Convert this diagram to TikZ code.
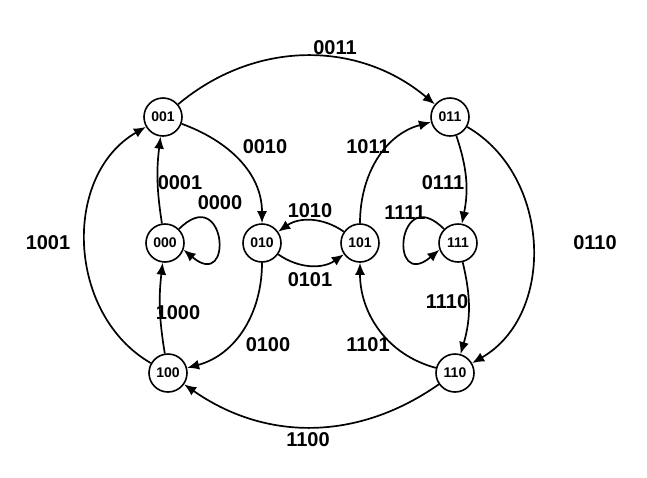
\documentclass[tikz,border=0pt]{standalone}
\usepackage{fontspec}
\setmainfont{Liberation Sans}
\usetikzlibrary{arrows.meta}
\begin{document}
\begin{tikzpicture}[x=1pt,y=-1pt,
  st/.style={circle,draw,line width=1.6pt,minimum size=38pt,inner sep=0pt,font=\bfseries\fontsize{14}{14}\selectfont,fill=white},
  lab/.style={font=\bfseries\fontsize{20}{20}\selectfont},
  ed/.style={line width=1.7pt,-{Latex[length=12pt,width=10pt]}}]
\useasboundingbox (0,0) rectangle (647,477);
\node[st] (a001) at (163,117) {001};
\node[st] (a011) at (450,117) {011};
\node[st] (a000) at (165,243) {000};
\node[st] (a010) at (262,243) {010};
\node[st] (a101) at (360,243) {101};
\node[st] (a111) at (458,243) {111};
\node[st] (a100) at (168,373) {100};
\node[st] (a110) at (455,373) {110};
\draw[ed] (a001) to[bend left=40] (a011);
\draw[ed] (a001) to[out=-20,in=90] (a010);
\draw[ed] (a000) to[bend left=8] (a001);
\draw[ed] (a000.45) to[out=45,in=-40,looseness=8] (a000.-20);
\draw[ed] (a100) to[bend left=8] (a000);
\draw[ed] (a100) to[out=150,in=-150,looseness=1.05] (a001);
\draw[ed] (a010) to[out=-90,in=15] (a100);
\draw[ed] (a010) to[bend right=35] (a101);
\draw[ed] (a101) to[bend right=35] (a010);
\draw[ed] (a101) to[out=90,in=195] (a011);
\draw[ed] (a011) to[bend left=15] (a111);
\draw[ed] (a111.135) to[out=135,in=-140,looseness=8] (a111.-160);
\draw[ed] (a111) to[bend left=15] (a110);
\draw[ed] (a011) to[out=-30,in=30,looseness=1.05] (a110);
\draw[ed] (a110) to[out=165,in=-90] (a101);
\draw[ed] (a110) to[bend left=35] (a100);
\node[lab] (l0011) at (335,48) {0011};
\node[lab] (l0010) at (265,147) {0010};
\node[lab] (l0001) at (180,183) {0001};
\node[lab] (l0000) at (220,203) {0000};
\node[lab] (l1000) at (178,313) {1000};
\node[lab] (l1001) at (48,243) {1001};
\node[lab] (l0100) at (268,345) {0100};
\node[lab] (l0101) at (310,280) {0101};
\node[lab] (l1010) at (310,211) {1010};
\node[lab] (l1011) at (368,147) {1011};
\node[lab] (l0111) at (443,183) {0111};
\node[lab] (l1111) at (405,213) {1111};
\node[lab] (l1110) at (447,302) {1110};
\node[lab] (l0110) at (595,243) {0110};
\node[lab] (l1101) at (368,345) {1101};
\node[lab] (l1100) at (308,440) {1100};
\end{tikzpicture}
\end{document}
